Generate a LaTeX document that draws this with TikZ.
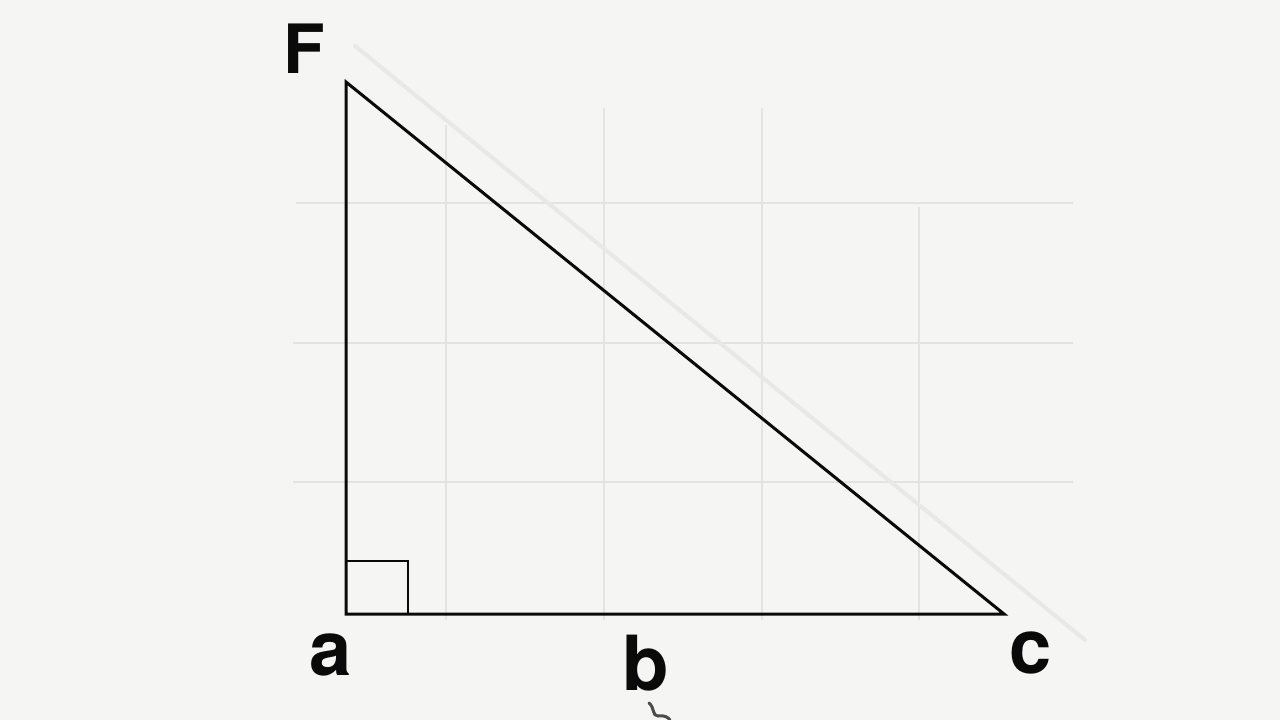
\documentclass[tikz,border=0pt]{standalone}
\usepackage{fontspec}
\setmainfont{TeX Gyre Heros}
\definecolor{bgc}{HTML}{F5F5F4}
\definecolor{gridc}{HTML}{E3E3E3}
\definecolor{shadc}{HTML}{E8E8E8}
\definecolor{inkc}{HTML}{0A0A0A}
\tikzset{
  gridline/.style={draw=gridc, line width=2.4pt},
  edge/.style={draw=inkc, line width=3pt, line join=miter},
  vlabel/.style={inner sep=0pt, anchor=base, text=inkc, font=\bfseries\fontsize{76}{80}\selectfont},
  caplabel/.style={inner sep=0pt, anchor=base, text=inkc, font=\bfseries\fontsize{68}{72}\selectfont}
}
\begin{document}
\begin{tikzpicture}[x=1pt,y=-1pt]
\fill[bgc] (0,0) rectangle (1280,720);
\useasboundingbox (0,0) rectangle (1280,720);
% grid
\draw[gridline] (296,203) -- (1073,203);
\draw[gridline] (293,343) -- (1073,343);
\draw[gridline] (293,482) -- (1073,482);
\draw[gridline] (446,125) -- (446,620);
\draw[gridline] (604,108) -- (604,620);
\draw[gridline] (762,108) -- (762,620);
\draw[gridline] (919,207) -- (919,620);
% faint shadow of hypotenuse
\draw[shadc, line width=4pt, line cap=round] (355,46) -- (1085,640);
% triangle
\coordinate (Fv) at (346,82);
\coordinate (av) at (346,614);
\coordinate (cv) at (1004,614);
\draw[edge] (Fv) -- (av) -- (cv) -- cycle;
% right-angle mark
\coordinate (r1) at (346,561);
\coordinate (r2) at (408,561);
\coordinate (r3) at (408,614);
\draw[draw=inkc, line width=2.6pt] (r1) -- (r2) -- (r3);
% labels
\node[caplabel] (F) at (304,73) {F};
\node[vlabel] (a) at (331,675) {a};
\node[vlabel] (b) at (646,690) {b};
\node[vlabel] (c) at (1031,673) {c};
% small grey mark at the bottom
\draw[gray!60!black, line width=3pt, line cap=round] (649,703) .. controls (655,708) and (652,716) .. (658,716) .. controls (664,715) and (668,717) .. (670,720);
\end{tikzpicture}
\end{document}
